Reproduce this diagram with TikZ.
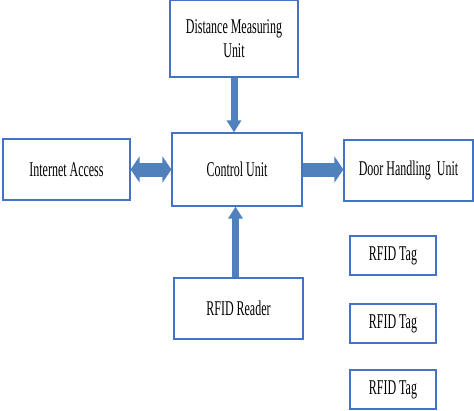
\documentclass[tikz,border=0pt]{standalone}
\usepackage{fontspec}
\setmainfont{Liberation Serif}[FakeStretch=0.57]
\usepackage{tikz}
\usetikzlibrary{arrows.meta}
\definecolor{boxblue}{RGB}{68,114,196}
\definecolor{arrowblue}{RGB}{79,129,189}
\tikzset{
    block/.style={draw=boxblue, line width=1.2pt, fill=white, inner sep=0pt, align=center, font=\fontsize{21}{24}\selectfont},
    fatarrow/.style={arrowblue, line width=14pt, -{Triangle[length=9pt,width=26pt]}},
    thinarrow/.style={arrowblue, line width=7pt, -{Triangle[length=12pt,width=14pt]}}
}

\begin{document}
\begin{tikzpicture}[x=1pt,y=-1pt]
\useasboundingbox (0,0) rectangle (474,410);
\foreach \x/\y/\w/\h/\p/\labeltext in {234/38.8/128/76.4/dmu/{Distance Measuring\\Unit}, 237/169.5/130/73/cu/{Control Unit}, 66.5/169.5/127/61/ia/{Internet Access}, 408.5/170.5/129/61/dhu/{Door Handling\ \ Unit}, 238.5/308.5/129/61/reader/{RFID Reader}}{
    \node[block, minimum width=\w pt, minimum height=\h pt] (\p) at (\x,\y) {\labeltext};
}
\foreach \y/\p in {255.5/tag1, 323.5/tag2, 389.5/tag3}{
    \node[block, minimum width=86pt, minimum height=39pt] (\p) at (393,\y) {RFID Tag};
}
\draw[thinarrow] (dmu.south) -- (dmu.south |- cu.north);
\draw[thinarrow] ([xshift=-3pt]reader.north) -- ([xshift=-3pt]reader.north |- cu.south);
\draw[fatarrow] (cu.east) -- (cu.east -| dhu.west);
\draw[fatarrow, {Triangle[length=9pt,width=26pt]}-{Triangle[length=9pt,width=26pt]}] (ia.east) -- (ia.east -| cu.west);
\end{tikzpicture}
\end{document}
